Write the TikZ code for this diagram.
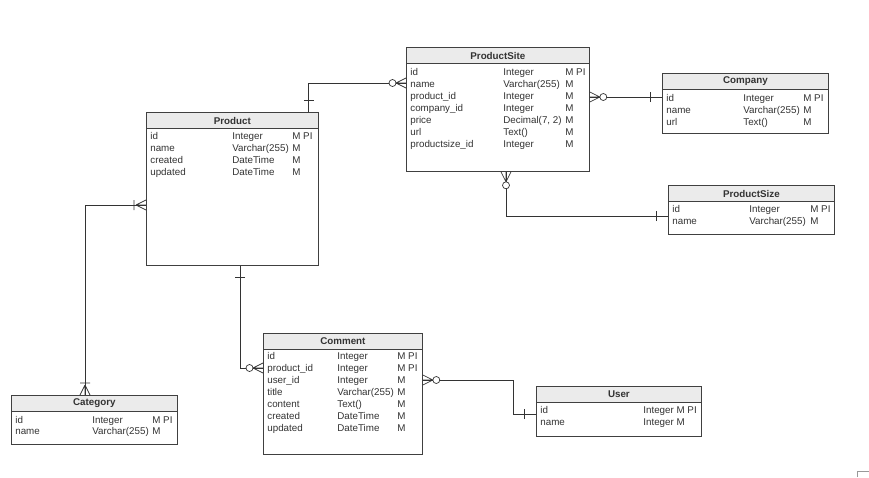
\documentclass[tikz,border=0pt]{standalone}
\usepackage{fontspec}
\setmainfont{Liberation Sans}
\usetikzlibrary{calc}
\newcommand{\zeromany}[2]{\begin{scope}[shift={(#1)},rotate=#2]
  \draw (10,0)--(0,5) (10,0)--(0,-5) (10,0)--(0,0);
  \draw[fill=white] (13.5,0) circle (3.5);\end{scope}}
\newcommand{\onlyone}[2]{\begin{scope}[shift={(#1)},rotate=#2]
  \draw (12,-5)--(12,5);\end{scope}}
\newcommand{\onemany}[2]{\begin{scope}[shift={(#1)},rotate=#2]
  \draw (10,0)--(0,5) (10,0)--(0,-5) (10,0)--(0,0) (12,-5)--(12,5);\end{scope}}
% table box, title and rows
\newcommand{\ertable}[7]{% name, x, y, w, h, title, rows
  \node[tbl, minimum width=#4, minimum height=#5, anchor=north west] (#1) at (#2,#3) {};
  \draw[hdr] (#1.north west) rectangle ($(#1.north east)+(0,16)$);
  \node[ttl] at ($(#1.north)+(0,8.5)$) {#6};
  \draw[line width=0.8pt,draw=black!75] (#1.north west) rectangle (#1.south east);
  #7}
\begin{document}
\begin{tikzpicture}[x=1pt,y=-1pt,line width=0.7pt,draw=black!80,
    tbl/.style={draw=black!75,line width=0.8pt,fill=white,inner sep=0},
    hdr/.style={fill=black!8,draw=black!75,line width=0.8pt},
    ttl/.style={font=\fontsize{9.8}{10}\selectfont\bfseries,text=black!80},
    fld/.style={font=\fontsize{9.8}{10}\selectfont,text=black!80,anchor=base west,inner sep=0}]
  \useasboundingbox (0,0) rectangle (869,477);

  \ertable{site}{406}{47}{183}{124}{ProductSite}{
    \foreach \n/\t/\f [count=\i from 0] in {id/Integer/M PI,name/Varchar(255)/M,
      product\_id/Integer/M,company\_id/Integer/M,price/{Decimal(7, 2)}/M,
      url/Text()/M,productsize\_id/Integer/M}{
      \node[fld] at (410,75.5+12*\i) {\n};
      \node[fld] at (503,75.5+12*\i) {\t};
      \node[fld] at (565,75.5+12*\i) {\f};}}
  \ertable{company}{662}{73}{166}{60}{Company}{
    \foreach \n/\t/\f [count=\i from 0] in {id/Integer/M PI,name/Varchar(255)/M,url/Text()/M}{
      \node[fld] at (666,101.5+12*\i) {\n};
      \node[fld] at (743,101.5+12*\i) {\t};
      \node[fld] at (803,101.5+12*\i) {\f};}}
  \ertable{size}{668}{185}{166}{49}{ProductSize}{
    \foreach \n/\t/\f [count=\i from 0] in {id/Integer/M PI,name/Varchar(255)/M}{
      \node[fld] at (672,212.5+12*\i) {\n};
      \node[fld] at (749,212.5+12*\i) {\t};
      \node[fld] at (810,212.5+12*\i) {\f};}}
  \ertable{prod}{146}{112}{172}{153}{Product}{
    \foreach \n/\t/\f [count=\i from 0] in {id/Integer/M PI,name/Varchar(255)/M,
      created/DateTime/M,updated/DateTime/M}{
      \node[fld] at (150,139.5+12*\i) {\n};
      \node[fld] at (232,139.5+12*\i) {\t};
      \node[fld] at (292,139.5+12*\i) {\f};}}
  \ertable{cat}{11}{395}{166}{49}{Category}{
    \foreach \n/\t/\f [count=\i from 0] in {id/Integer/M PI,name/Varchar(255)/M}{
      \node[fld] at (15,423.5+11*\i) {\n};
      \node[fld] at (92,423.5+11*\i) {\t};
      \node[fld] at (152,423.5+11*\i) {\f};}}
  \ertable{comment}{263}{333}{159}{121}{Comment}{
    \foreach \n/\t/\f [count=\i from 0] in {id/Integer/M PI,product\_id/Integer/M PI,
      user\_id/Integer/M,title/Varchar(255)/M,content/Text()/M,
      created/DateTime/M,updated/DateTime/M}{
      \node[fld] at (267,359.5+12*\i) {\n};
      \node[fld] at (337,359.5+12*\i) {\t};
      \node[fld] at (397,359.5+12*\i) {\f};}}
  \ertable{user}{536}{386}{165}{50}{User}{
    \foreach \n/\t [count=\i from 0] in {id/Integer M PI,name/Integer M}{
      \node[fld] at (540,413.5+12*\i) {\n};
      \node[fld] at (643,413.5+12*\i) {\t};}}

  % relations
  \coordinate (pa) at ($(prod.north east)+(-10,0)$);
  \coordinate (pb) at (site.west |- 0,83);
  \draw (pa) |- (pb);
  \onlyone{pa}{90} \zeromany{pb}{180}

  \coordinate (ca) at (site.east |- 0,97);
  \coordinate (cb) at (company.west |- 0,97);
  \draw (ca) -- (cb);
  \zeromany{ca}{0} \onlyone{cb}{180}

  \coordinate (sa) at (site.south -| 506,0);
  \coordinate (sb) at (size.west |- 0,216);
  \draw (sa) |- (sb);
  \zeromany{sa}{270} \onlyone{sb}{180}

  \coordinate (ka) at (prod.west |- 0,205);
  \coordinate (kb) at (cat.north -| 85,0);
  \draw (ka) -| (kb);
  \onemany{ka}{180} \onemany{kb}{90}

  \coordinate (ma) at (prod.south -| 240,0);
  \coordinate (mb) at (comment.west |- 0,368);
  \draw (ma) |- (mb);
  \onlyone{ma}{270} \zeromany{mb}{180}

  \coordinate (ua) at (comment.east |- 0,380);
  \coordinate (ub) at (user.west |- 0,414);
  \draw (ua) -- (513,380) |- (ub);
  \zeromany{ua}{0} \onlyone{ub}{180}

  \draw[black!40,line width=0.5pt] (857,477) -- (857,471) -- (869,471);
\end{tikzpicture}
\end{document}
